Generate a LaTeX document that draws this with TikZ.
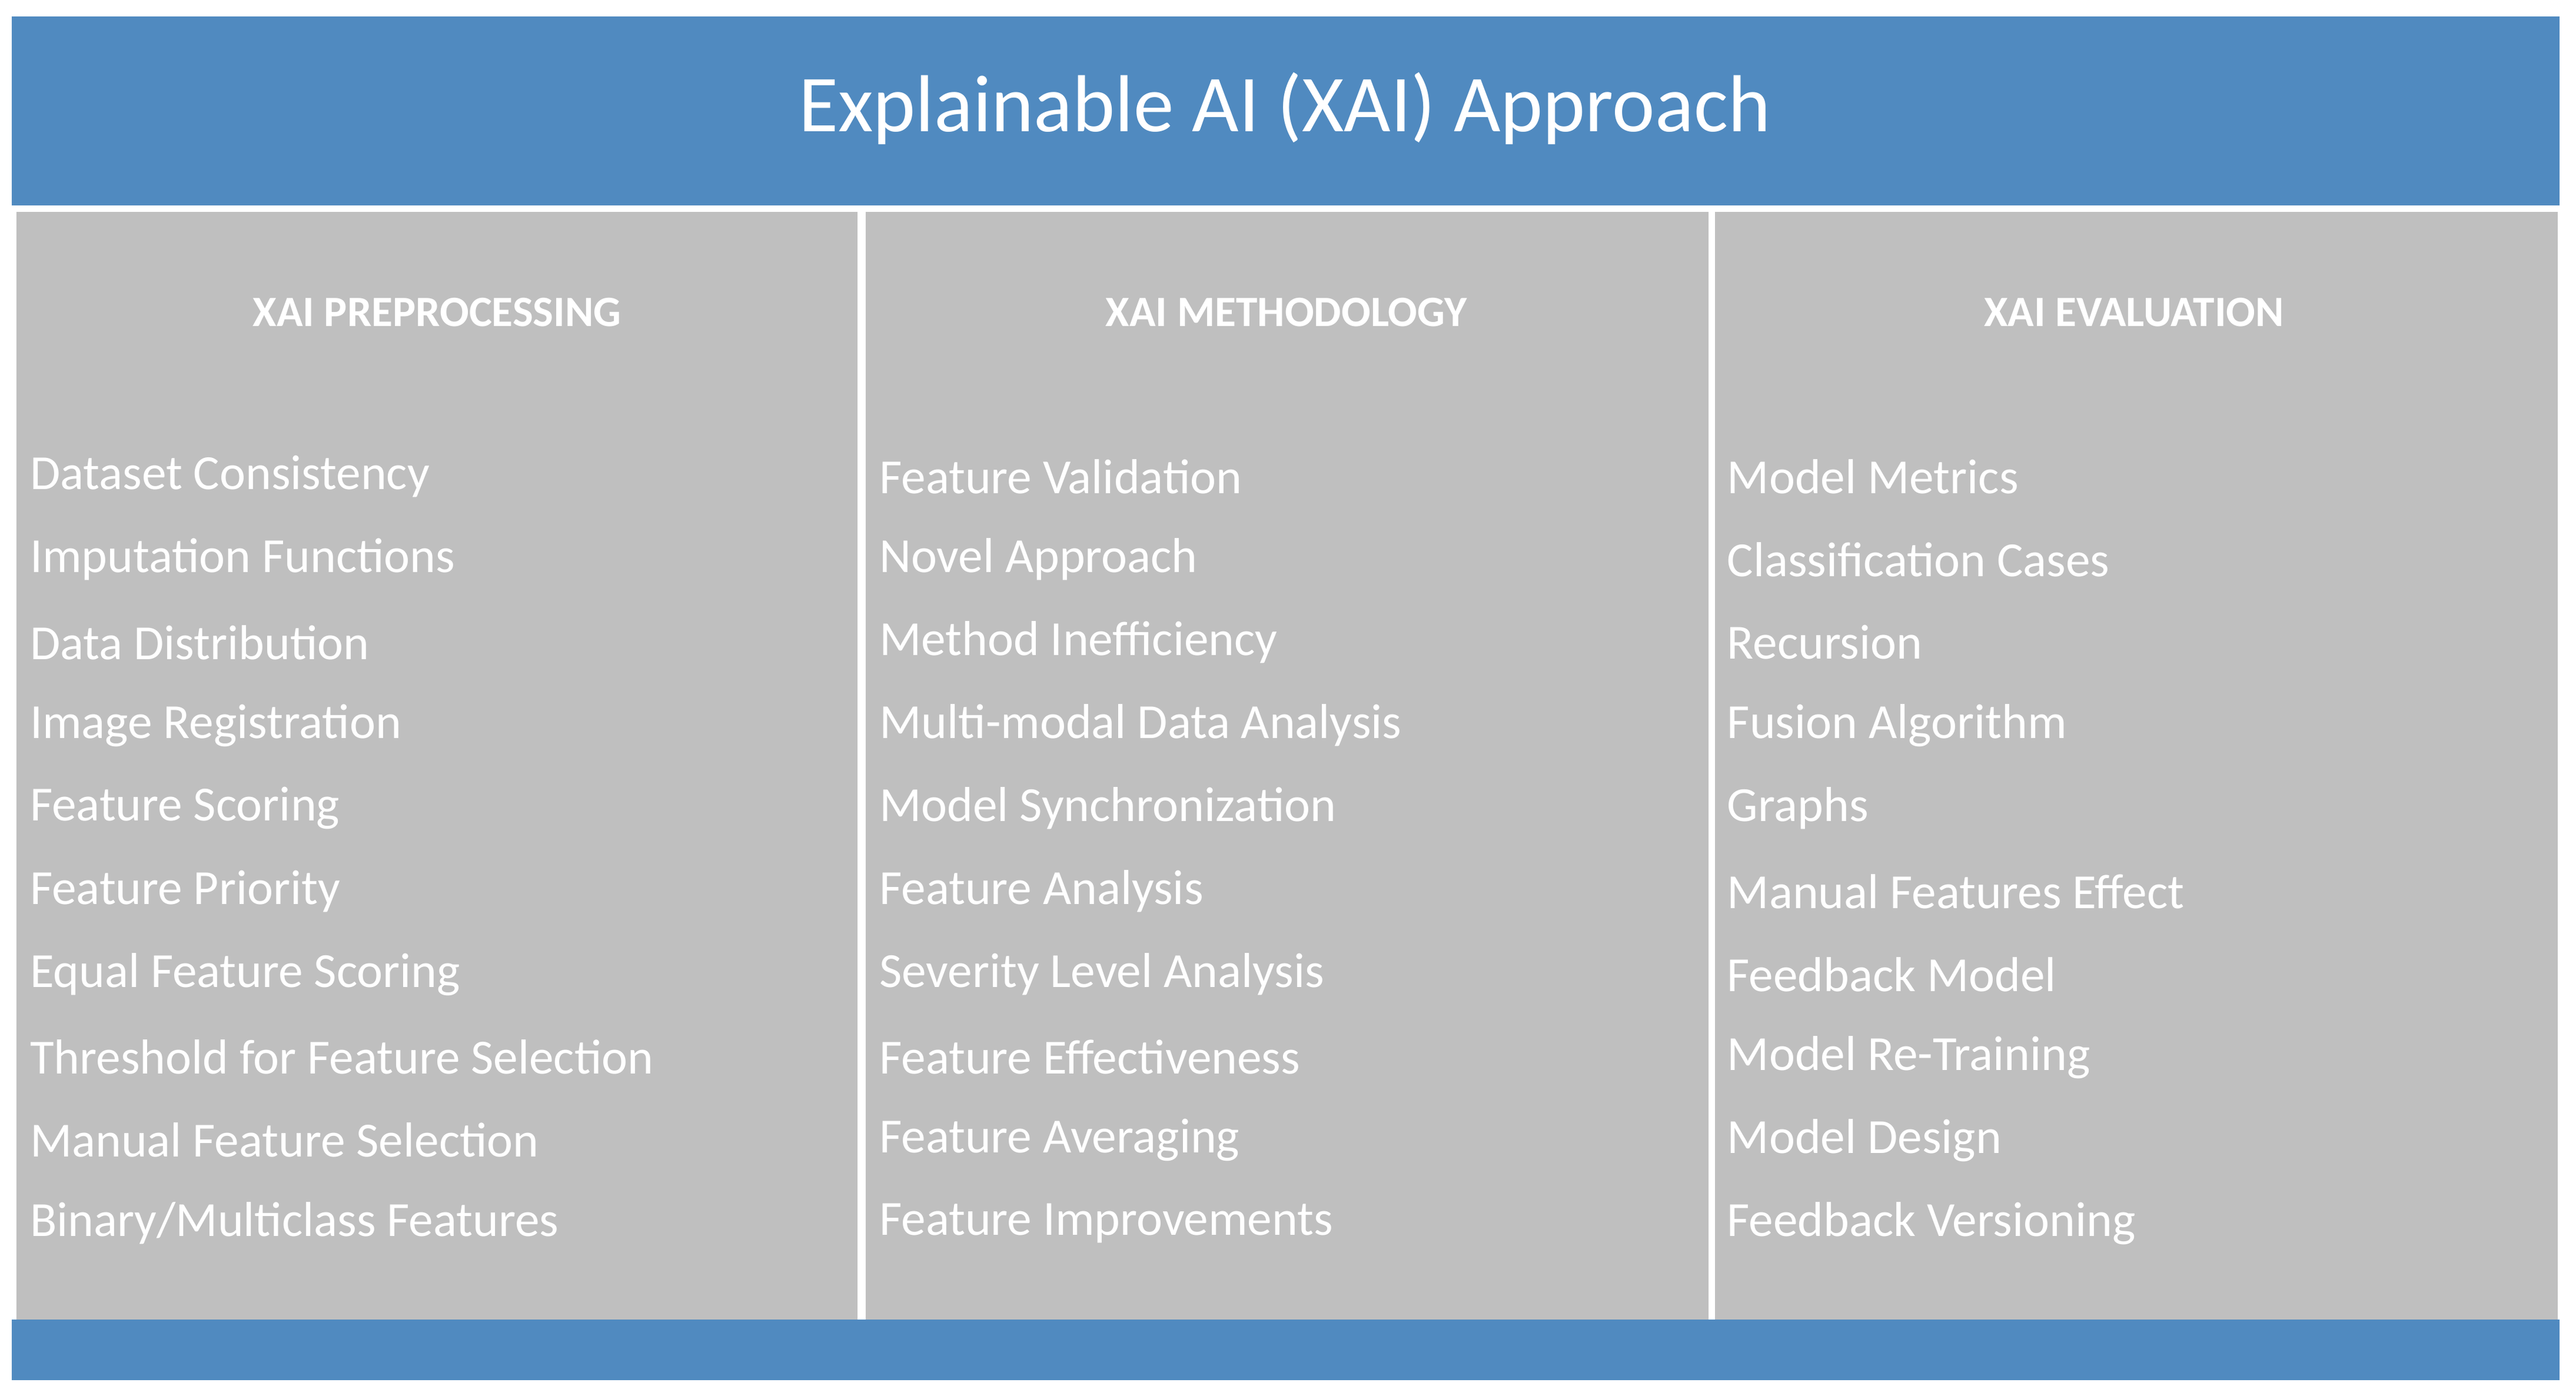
\documentclass[tikz,border=0pt]{standalone}
\usepackage{fontspec}
\setmainfont{Carlito}
\definecolor{barblue}{RGB}{80,138,192}
\definecolor{colgray}{RGB}{191,191,191}
\begin{document}
\begin{tikzpicture}[x=0.02cm,y=-0.02cm,
  item/.style={anchor=west,text=white,font=\fontsize{17}{20}\selectfont,inner sep=0},
  head/.style={text=white,font=\bfseries\fontsize{15}{18}\selectfont,inner sep=0}]
\useasboundingbox[fill=white] (0,0) rectangle (1568,851.2);
\fill[barblue] (7,10) rectangle (1558,125);
\node[text=white,font=\fontsize{28}{32}\selectfont] (title) at (782,66) {Explainable AI (XAI) Approach};
\fill[colgray] (10,129) rectangle (522,803);
\fill[colgray] (527,129) rectangle (1040,803);
\fill[colgray] (1044,129) rectangle (1557,803);
\fill[barblue] (7,803) rectangle (1558,840);
\node[head] (h1) at (266,190) {XAI PREPROCESSING};
\node[head] (h2) at (783,190) {XAI METHODOLOGY};
\node[head] (h3) at (1299,190) {XAI EVALUATION};
\foreach \t [count=\i] in {Dataset Consistency,Imputation Functions,Data Distribution,Image Registration,Feature Scoring,Feature Priority,Equal Feature Scoring,Threshold for Feature Selection,Manual Feature Selection,Binary/Multiclass Features}
  \node[item] (a\i) at (18,{290+50.5*(\i-1)}) {\t};
\foreach \t [count=\i] in {Feature Validation,Novel Approach,Method Inefficiency,Multi-modal Data Analysis,Model Synchronization,Feature Analysis,Severity Level Analysis,Feature Effectiveness,Feature Averaging,Feature Improvements}
  \node[item] (b\i) at (535,{290+50.5*(\i-1)}) {\t};
\foreach \t [count=\i] in {Model Metrics,Classification Cases,Recursion,Fusion Algorithm,Graphs,Manual Features Effect,Feedback Model,Model Re-Training,Model Design,Feedback Versioning}
  \node[item] (c\i) at (1051,{290+50.5*(\i-1)}) {\t};
\end{tikzpicture}
\end{document}
